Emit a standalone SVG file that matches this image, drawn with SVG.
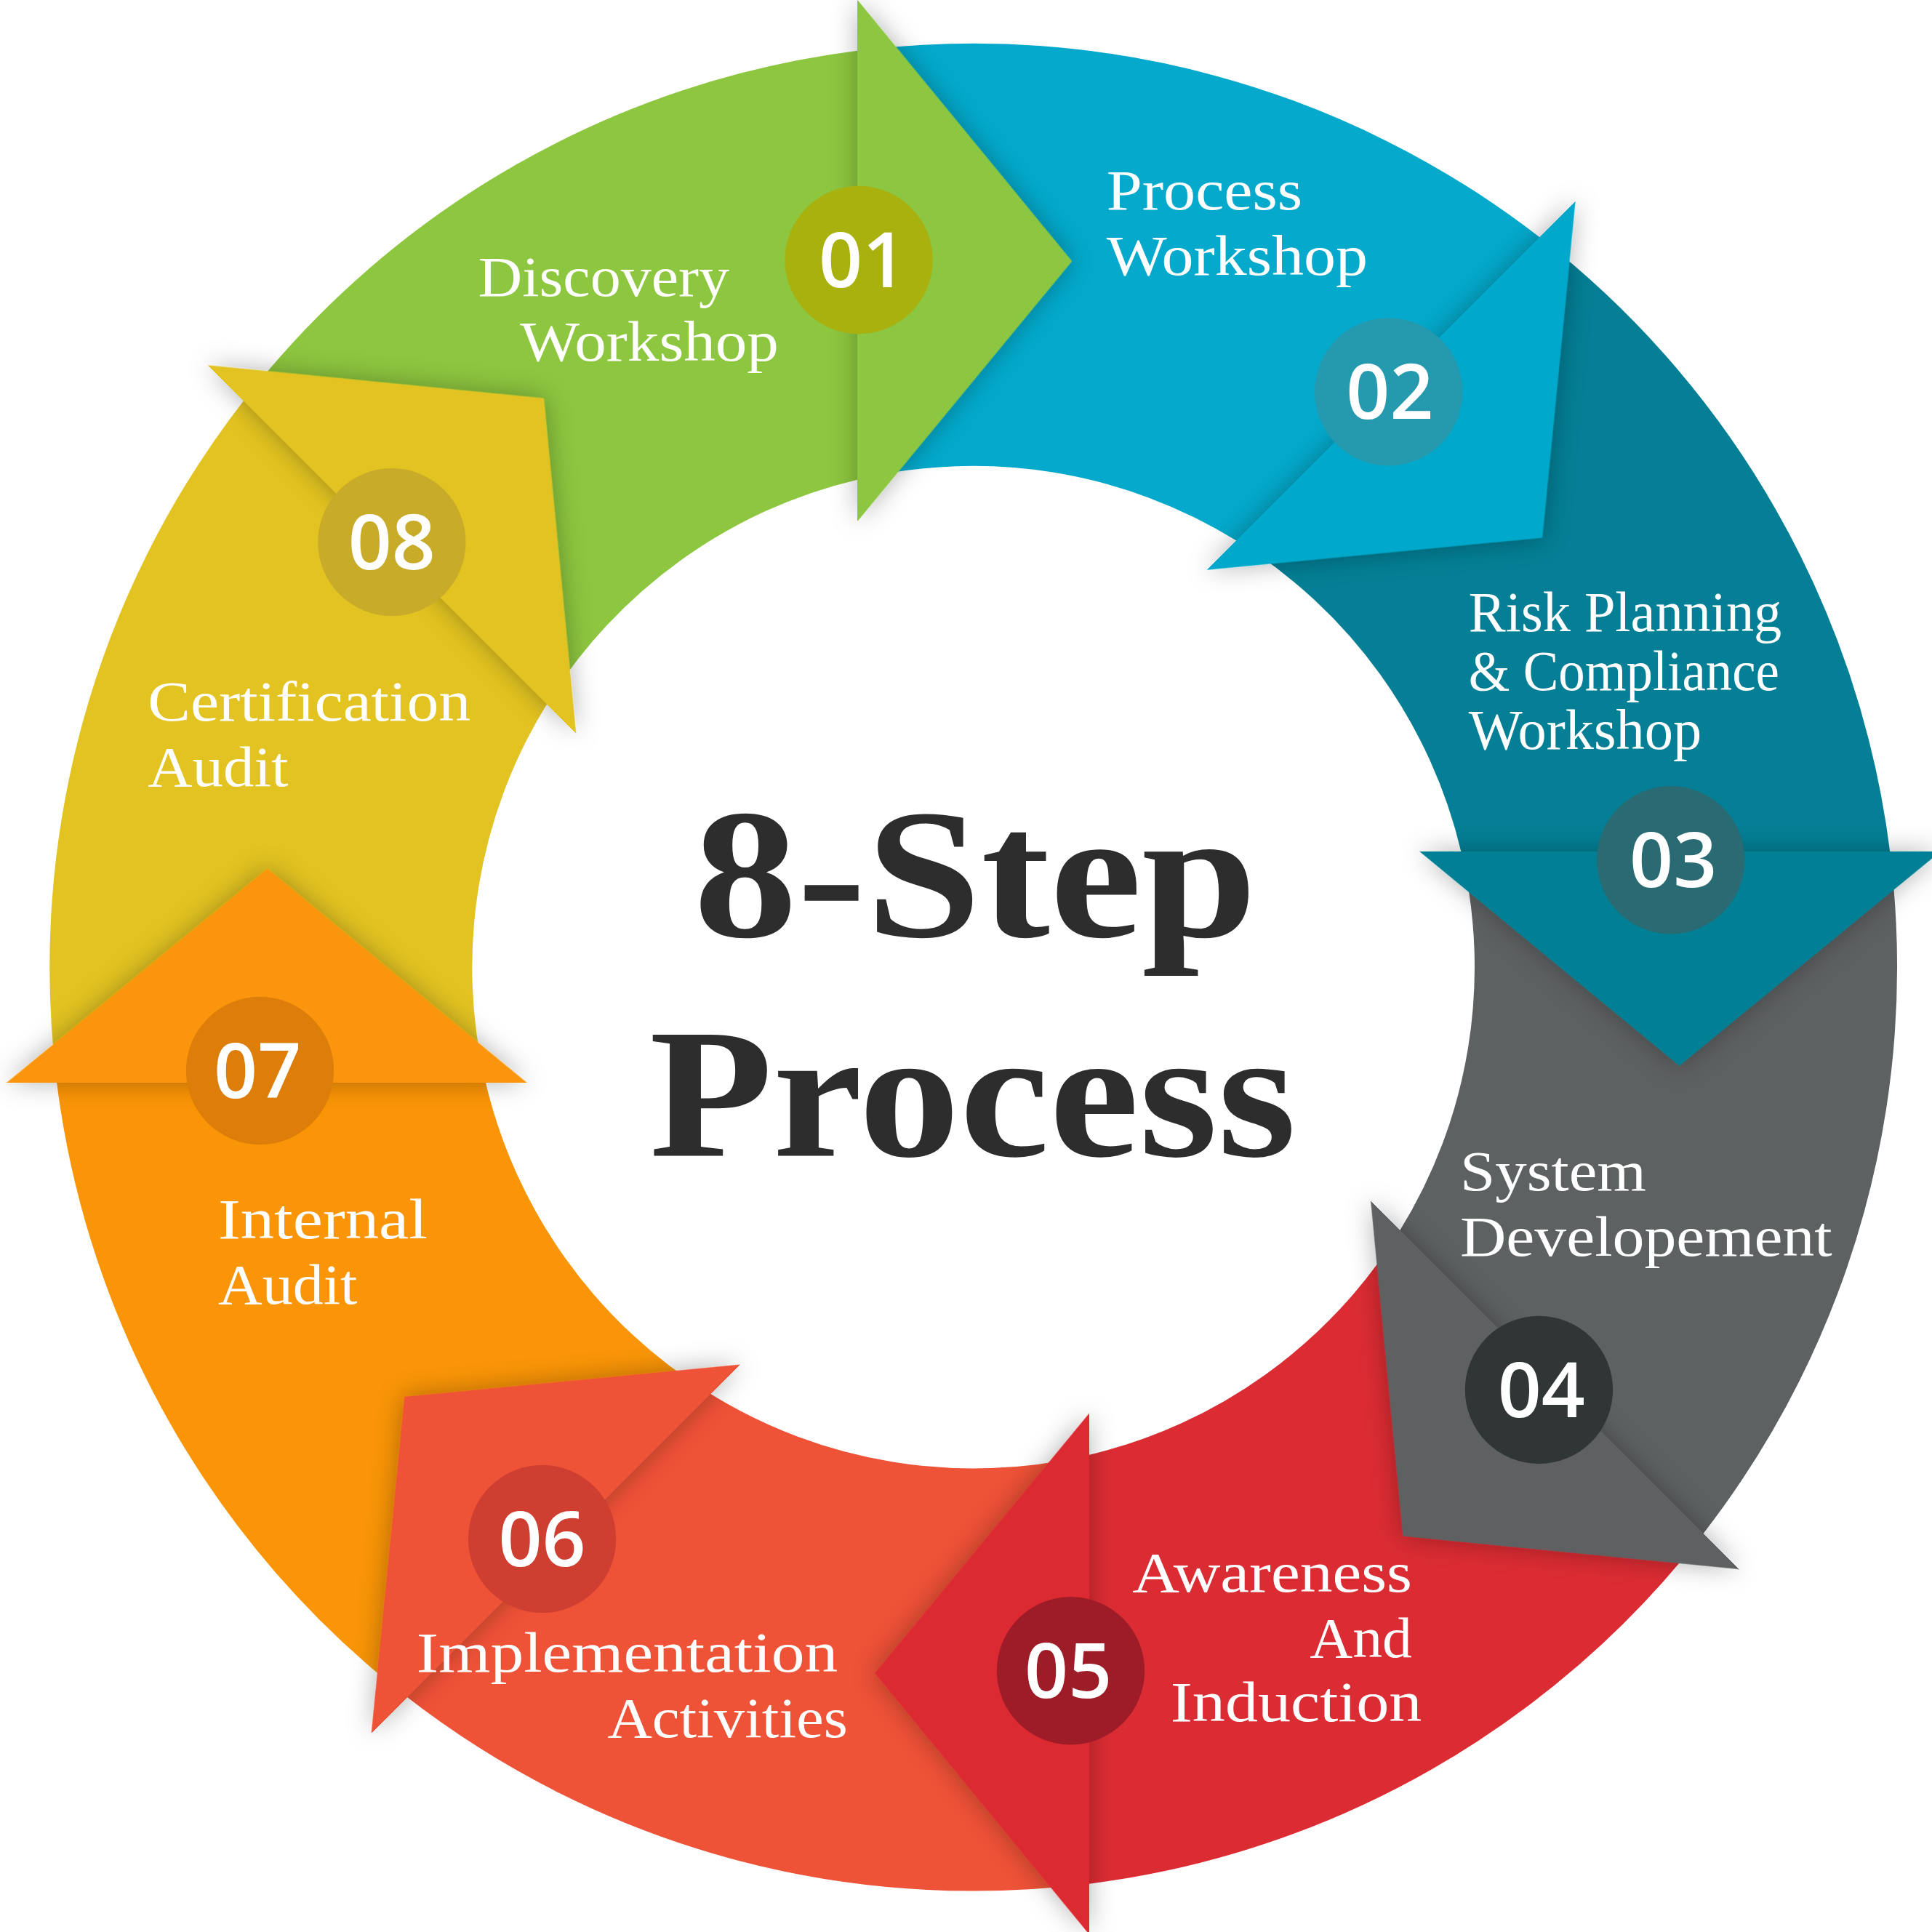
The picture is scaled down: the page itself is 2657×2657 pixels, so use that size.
<svg xmlns="http://www.w3.org/2000/svg" width="2657" height="2657" viewBox="0 0 2657 2657">
<style>
.lbl{font-family:"Liberation Serif","DejaVu Serif",serif;font-size:46px;fill:#fff}
.num{font-family:"Open Sans","DejaVu Sans",sans-serif;font-size:62px;font-weight:600;fill:#fff;text-anchor:middle}
.title{font-family:"Liberation Serif","DejaVu Serif",serif;font-weight:bold;font-size:150px;fill:#2d2d2d}
</style>
<defs>
<filter id="sh" x="-30%" y="-30%" width="160%" height="160%"><feDropShadow dx="0" dy="0" stdDeviation="10" flood-color="#000" flood-opacity="0.3"/></filter>
<path id="body" d="M198,325 A750,750 0 0 1 697,41 L697,389 A407,407 0 0 0 444,571 Z"/>
<path id="head" d="M696,0 L870,212 L696,423 Z"/>
</defs>
<rect width="2657" height="2657" fill="#fff"/>
<g transform="scale(1.69451)">
<g id="connectors"></g>
<g id="bodies">
<use href="#body" fill="#8DC63F"/>
<use href="#body" transform="rotate(45 790 785)" fill="#04A9CB"/>
<use href="#body" transform="rotate(90 790 785)" fill="#047F95"/>
<use href="#body" transform="rotate(135 790 785)" fill="#5E6162"/>
<use href="#body" transform="rotate(180 790 785)" fill="#DC2C33"/>
<use href="#body" transform="rotate(225 790 785)" fill="#EE5237"/>
<use href="#body" transform="rotate(270 790 785)" fill="#FA9507"/>
<use href="#body" transform="rotate(315 790 785)" fill="#E2C322"/>
</g>
<g id="heads" filter="url(#sh)">
<use href="#head" fill="#8DC63F"/>
<use href="#head" transform="rotate(45 790 785)" fill="#04A9CB"/>
<use href="#head" transform="rotate(90 790 785)" fill="#047F95"/>
<use href="#head" transform="rotate(135 790 785)" fill="#5E6162"/>
<use href="#head" transform="rotate(180 790 785)" fill="#DC2C33"/>
<use href="#head" transform="rotate(225 790 785)" fill="#EE5237"/>
<use href="#head" transform="rotate(270 790 785)" fill="#FA9507"/>
<use href="#head" transform="rotate(315 790 785)" fill="#E2C322"/>
</g>
<g id="n01"><circle cx="697" cy="211" r="60" fill="#A9B10F"/><text class="num" x="700" y="233">01</text>
<text class="lbl" x="388" y="240" textLength="204" lengthAdjust="spacingAndGlyphs">Discovery</text><text class="lbl" x="422" y="293" textLength="210" lengthAdjust="spacingAndGlyphs">Workshop</text></g>
<g id="n02"><circle cx="1127" cy="318" r="60" fill="#2599AE"/><text class="num" x="1128" y="340">02</text>
<text class="lbl" x="898" y="170" textLength="159" lengthAdjust="spacingAndGlyphs">Process</text><text class="lbl" x="898" y="223" textLength="212" lengthAdjust="spacingAndGlyphs">Workshop</text></g>
<g id="n03"><circle cx="1356" cy="698" r="60" fill="#2A6A72"/><text class="num" x="1358" y="720">03</text>
<text class="lbl" x="1192" y="512" textLength="254" lengthAdjust="spacingAndGlyphs">Risk Planning</text><text class="lbl" x="1192" y="560" textLength="252" lengthAdjust="spacingAndGlyphs">&amp; Compliance</text><text class="lbl" x="1192" y="608" textLength="189" lengthAdjust="spacingAndGlyphs">Workshop</text></g>
<g id="n04"><circle cx="1249" cy="1128" r="60" fill="#303535"/><text class="num" x="1251" y="1150">04</text>
<text class="lbl" x="1185" y="966" textLength="151" lengthAdjust="spacingAndGlyphs">System</text><text class="lbl" x="1185" y="1019" textLength="302" lengthAdjust="spacingAndGlyphs">Developement</text></g>
<g id="n05"><circle cx="869" cy="1356" r="60" fill="#9E1C27"/><text class="num" x="867" y="1378">05</text>
<text class="lbl" x="919" y="1292" textLength="227" lengthAdjust="spacingAndGlyphs">Awareness</text><text class="lbl" x="1063" y="1345" textLength="83" lengthAdjust="spacingAndGlyphs">And</text><text class="lbl" x="950" y="1397" textLength="204" lengthAdjust="spacingAndGlyphs">Induction</text></g>
<g id="n06"><circle cx="440" cy="1249" r="60" fill="#CE3F31"/><text class="num" x="440" y="1271">06</text>
<text class="lbl" x="338" y="1357" textLength="342" lengthAdjust="spacingAndGlyphs">Implementation</text><text class="lbl" x="493" y="1410" textLength="195" lengthAdjust="spacingAndGlyphs">Activities</text></g>
<g id="n07"><circle cx="211" cy="869" r="60" fill="#DC7E09"/><text class="num" x="209" y="891">07</text>
<text class="lbl" x="177" y="1005" textLength="170" lengthAdjust="spacingAndGlyphs">Internal</text><text class="lbl" x="177" y="1058" textLength="113" lengthAdjust="spacingAndGlyphs">Audit</text></g>
<g id="n08"><circle cx="318" cy="440" r="60" fill="#C9AB2A"/><text class="num" x="318" y="462">08</text>
<text class="lbl" x="120" y="585" textLength="262" lengthAdjust="spacingAndGlyphs">Certification</text><text class="lbl" x="120" y="638" textLength="114" lengthAdjust="spacingAndGlyphs">Audit</text></g>
<g id="title"><text class="title" x="563" y="760" textLength="457" lengthAdjust="spacingAndGlyphs">8-Step</text><text class="title" x="527" y="938" textLength="525" lengthAdjust="spacingAndGlyphs">Process</text></g>
</g>
</svg>
